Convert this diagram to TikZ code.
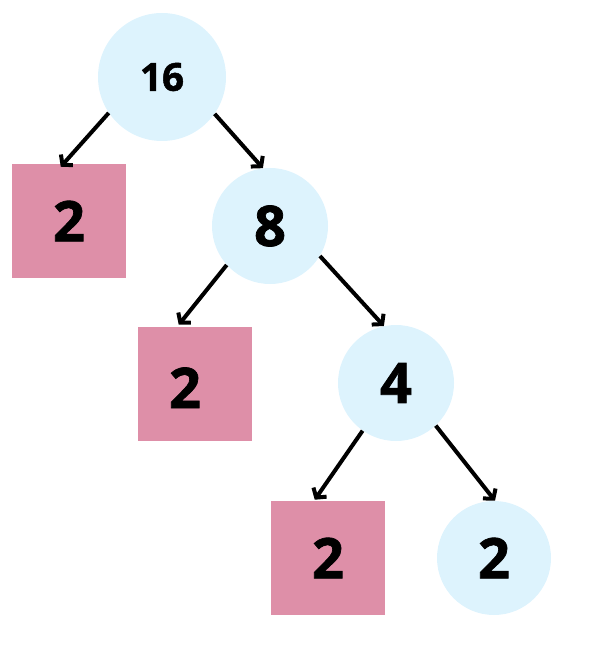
\documentclass[tikz,border=0pt]{standalone}
\usepackage{fontspec}
\setmainfont{Open Sans}[BoldFeatures={FakeBold=1.3}]
\usetikzlibrary{arrows.meta,calc}
\definecolor{cblue}{RGB}{221,243,253}
\definecolor{spink}{RGB}{222,143,168}
\tikzset{
  circ/.style={circle,fill=cblue,inner sep=0pt,font=\fontsize{42}{42}\selectfont\bfseries},
  sq/.style={rectangle,fill=spink,minimum size=85.5pt,inner sep=0pt,font=\fontsize{42}{42}\selectfont\bfseries},
  arr/.style={line width=3pt,-{Straight Barb[length=5pt,width=12pt,line width=3pt]}}
}
\begin{document}
\begin{tikzpicture}[x=0.75pt,y=-0.75pt]
\useasboundingbox (0,0) rectangle (588,648);
\node[circ,minimum size=96pt,font=\fontsize{29}{29}\selectfont\bfseries] (c16) at (162,77) {16};
\node[sq] (s1) at (69,221) {2};
\node[circ,minimum size=87pt] (c8) at (270,226) {8};
\node[sq,text height=36pt,text depth=0pt] (s2) at (195,384) {\kern-15pt 2};
\node[circ,minimum size=87pt] (c4) at (396,383) {4};
\node[sq] (s3) at (328,558) {2};
\node[circ,minimum size=85.5pt] (c2) at (494,558) {2};
\draw[arr] (c16.214) -- ($(s1.north west)+(49,3)$);
\draw[arr] (c16.325) -- (c8.97);
\draw[arr] (c8.222) -- ($(s2.north west)+(41,-2)$);
\draw[arr] (c8.329) -- (c4.102);
\draw[arr] (c4.235) -- ($(s3.north west)+(44,-1)$);
\draw[arr] (c4.313) -- (c2.89);
\end{tikzpicture}
\end{document}
